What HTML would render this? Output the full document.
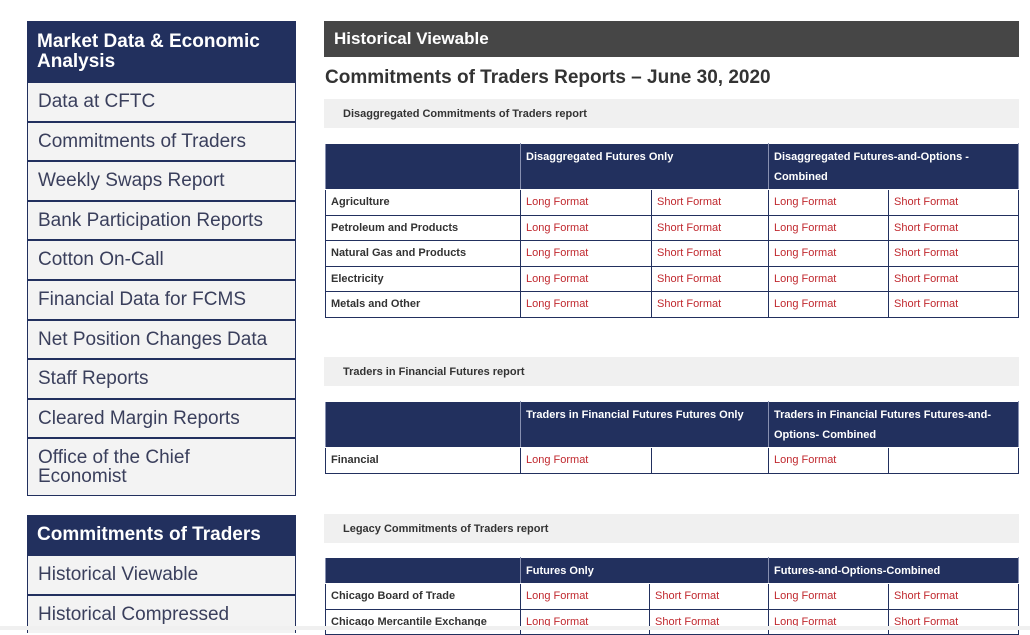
<!DOCTYPE html>
<html><head><meta charset="utf-8"><style>
*{margin:0;padding:0;box-sizing:border-box}
body{width:1030px;height:630px;overflow:hidden;background:#fff;font-family:"Liberation Sans",Arial,sans-serif;position:relative}
.a{position:absolute}
.side{left:27px;width:269px;border:1px solid #22305e}
.sh{background:#22305e;color:#fff;font-weight:bold;font-size:19px;line-height:20px;padding:8px 9px}
.si{background:#f3f3f3;color:#3a3f5c;font-size:19px;border-top:2px solid #22305e;padding:0 10px;height:39.6px;line-height:37px}
.bar{left:324px;width:695px;background:#f0f0f0;font-size:11px;font-weight:bold;color:#333;padding-left:19px;height:29px;line-height:31px}
table{position:absolute;left:325px;width:694px;border-collapse:collapse;font-size:11px}
td,th{border:1px solid #22305e;padding:0 5px;text-align:left;vertical-align:top}
th{background:#22305e;color:#fff;font-weight:bold;line-height:20px;padding-top:3px;border-color:#fff #8890b0}
td{height:25.5px;line-height:24px;color:#333;font-weight:bold}
td.l{color:#c0282e;font-weight:normal}
</style></head><body>
<div class="a side" style="top:21px">
<div class="sh" style="height:59px;padding-top:10px">Market Data &amp; Economic Analysis</div>
<div class="si">Data at CFTC</div>
<div class="si">Commitments of Traders</div>
<div class="si">Weekly Swaps Report</div>
<div class="si">Bank Participation Reports</div>
<div class="si">Cotton On-Call</div>
<div class="si">Financial Data for FCMS</div>
<div class="si">Net Position Changes Data</div>
<div class="si">Staff Reports</div>
<div class="si">Cleared Margin Reports</div>
<div class="si" style="height:58px;line-height:19px;padding-top:9px;padding-right:90px">Office of the Chief Economist</div>
</div>
<div class="a side" style="top:515px;border-bottom:none">
<div class="sh" style="height:38px;line-height:38px;padding:0 9px">Commitments of Traders</div>
<div class="si">Historical Viewable</div>
<div class="si">Historical Compressed</div>
</div>
<div class="a" style="left:324px;top:21px;width:695px;height:36px;background:#464646;color:#fff;font-weight:bold;font-size:17px;line-height:36px;padding-left:10px">Historical Viewable</div>
<div class="a" style="left:325px;top:67px;font-weight:bold;font-size:19px;color:#333">Commitments of Traders Reports – June 30, 2020</div>
<div class="a bar" style="top:99px">Disaggregated Commitments of Traders report</div>
<table style="top:143px">
<tr><th style="width:195px;height:46px"></th><th colspan="2">Disaggregated Futures Only</th><th colspan="2">Disaggregated Futures-and-Options - Combined</th></tr>
<tr><td>Agriculture</td><td class="l" style="width:131px">Long Format</td><td class="l" style="width:117px">Short Format</td><td class="l" style="width:120px">Long Format</td><td class="l">Short Format</td></tr>
<tr><td>Petroleum and Products</td><td class="l">Long Format</td><td class="l">Short Format</td><td class="l">Long Format</td><td class="l">Short Format</td></tr>
<tr><td>Natural Gas and Products</td><td class="l">Long Format</td><td class="l">Short Format</td><td class="l">Long Format</td><td class="l">Short Format</td></tr>
<tr><td>Electricity</td><td class="l">Long Format</td><td class="l">Short Format</td><td class="l">Long Format</td><td class="l">Short Format</td></tr>
<tr><td>Metals and Other</td><td class="l">Long Format</td><td class="l">Short Format</td><td class="l">Long Format</td><td class="l">Short Format</td></tr>
</table>
<div class="a bar" style="top:357px">Traders in Financial Futures report</div>
<table style="top:401px">
<tr><th style="width:195px;height:46px"></th><th colspan="2">Traders in Financial Futures Futures Only</th><th colspan="2">Traders in Financial Futures Futures-and-Options- Combined</th></tr>
<tr><td>Financial</td><td class="l" style="width:131px">Long Format</td><td class="l" style="width:117px"></td><td class="l" style="width:120px">Long Format</td><td class="l"></td></tr>
</table>
<div class="a bar" style="top:514px">Legacy Commitments of Traders report</div>
<table style="top:557px">
<tr><th style="width:195px;height:26px"></th><th colspan="2">Futures Only</th><th colspan="2">Futures-and-Options-Combined</th></tr>
<tr><td>Chicago Board of Trade</td><td class="l" style="width:129px">Long Format</td><td class="l" style="width:119px">Short Format</td><td class="l" style="width:120px">Long Format</td><td class="l">Short Format</td></tr>
<tr><td>Chicago Mercantile Exchange</td><td class="l">Long Format</td><td class="l">Short Format</td><td class="l">Long Format</td><td class="l">Short Format</td></tr>
</table>
<div class="a" style="left:0;top:626px;width:1030px;height:4px;background:#f0f0f0"></div>
</body></html>
